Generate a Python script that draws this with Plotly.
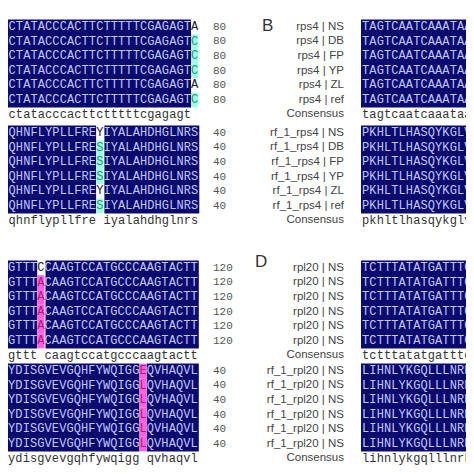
import plotly.graph_objects as go

# ---- data ----
nuc_a = ["CTATACCCACTTCTTTTTCGAGAGTA", "CTATACCCACTTCTTTTTCGAGAGTC", "CTATACCCACTTCTTTTTCGAGAGTC",
         "CTATACCCACTTCTTTTTCGAGAGTC", "CTATACCCACTTCTTTTTCGAGAGTA", "CTATACCCACTTCTTTTTCGAGAGTC"]
nuc_a_cons = "ctatacccacttctttttcgagagt "
prot_a = ["QHNFLYPLLFREYIYALAHDHGLNRS", "QHNFLYPLLFRESIYALAHDHGLNRS", "QHNFLYPLLFRESIYALAHDHGLNRS",
          "QHNFLYPLLFRESIYALAHDHGLNRS", "QHNFLYPLLFREYIYALAHDHGLNRS", "QHNFLYPLLFRESIYALAHDHGLNRS"]
prot_a_cons = "qhnflypllfre iyalahdhglnrs"
nuc_c = ["GTTTCCAAGTCCATGCCCAAGTACTT"] + ["GTTTACAAGTCCATGCCCAAGTACTT"] * 5
nuc_c_cons = "gttt caagtccatgcccaagtactt"
prot_c = ["YDISGVEVGQHFYWQIGGEQVHAQVL"] + ["YDISGVEVGQHFYWQIGGLQVHAQVL"] * 5
prot_c_cons = "ydisgvevgqhfywqigg qvhaqvl"

nuc_b = ["TAGTCAATCAAATAATAAT"] * 6
nuc_b_cons = "tagtcaatcaaataataat"
prot_b = ["PKHLTLHASQYKGLVNKK"] * 6
prot_b_cons = "pkhltlhasqykglvnkk"
nuc_d = ["TCTTTATATGATTTCCATT"] * 6
nuc_d_cons = "tctttatatgatttccatt"
prot_d = ["LIHNLYKGQLLLNRKIEE"] * 6
prot_d_cons = "lihnlykgqlllnrkiee"

labels_b_nuc = ["rps4 | NS", "rps4 | DB", "rps4 | FP", "rps4 | YP", "rps4 | ZL", "rps4 | ref", "Consensus"]
labels_b_prot = ["rf_1_rps4 | NS", "rf_1_rps4 | DB", "rf_1_rps4 | FP", "rf_1_rps4 | YP",
                 "rf_1_rps4 | ZL", "rf_1_rps4 | ref", "Consensus"]
labels_d_nuc = ["rpl20 | NS"] * 6 + ["Consensus"]
labels_d_prot = ["rf_1_rpl20 | NS"] * 6 + ["Consensus"]

ends = ["80", "40", "120", "40"]

NAVY = "#0a0a6e"
LET = "#c0c6ff"
CW = 7.3
PITCH = 14.6

fig = go.Figure()
shapes = []


def rect(x0, x1, y0, y1, color):
    shapes.append(dict(type="rect", xref="x", yref="y", x0=x0, x1=x1, y0=y0, y1=y1,
                       fillcolor=color, line=dict(width=0), layer="below"))


def block(x0, y0, rows, cons, hl_col=None, hl_rows=(), hl=None, gap=False, end=None):
    n = len(rows[0])
    top, bot = y0 - 7.5, y0 + PITCH * (len(rows) - 1) + 7.5
    if hl_col is None:
        rect(x0 - 1, x0 + n * CW, top, bot, NAVY)
    else:
        rect(x0 - 1, x0 + hl_col * CW, top, bot, NAVY)
        if hl_col + 1 < n:
            rect(x0 + (hl_col + 1) * CW + (1 if gap else 0), x0 + n * CW + 1, top, bot, NAVY)
    xs, ys, ts, cs = [], [], [], []
    for r, seq in enumerate(rows):
        y = y0 + r * PITCH
        for i, ch in enumerate(seq):
            xs.append(x0 + (i + 0.5) * CW)
            ys.append(y)
            ts.append(ch)
            if i == hl_col:
                if r in hl_rows:
                    rect(x0 + i * CW, x0 + (i + 1) * CW, y - 7.3, y + 7.3, hl[0])
                    cs.append(hl[1])
                else:
                    cs.append("#222222")
            else:
                cs.append(LET)
    yc = y0 + PITCH * len(rows)
    for i, ch in enumerate(cons):
        xs.append(x0 + (i + 0.5) * CW)
        ys.append(yc)
        ts.append(ch)
        cs.append("#333333")
    fig.add_trace(go.Scatter(x=xs, y=ys, text=ts, mode="text", hoverinfo="skip",
                             textfont=dict(family="Liberation Mono", size=12, color=cs)))
    if end:
        fig.add_trace(go.Scatter(x=[205] * len(rows), y=[y0 + r * PITCH for r in range(len(rows))],
                                 text=[end] * len(rows), mode="text", textposition="middle right",
                                 hoverinfo="skip",
                                 textfont=dict(family="Liberation Mono", size=11, color="#555555")))


def labels(y0, labs):
    fig.add_trace(go.Scatter(x=[336] * len(labs), y=[y0 + r * PITCH for r in range(len(labs))],
                             text=labs, mode="text", textposition="middle left", hoverinfo="skip",
                             textfont=dict(family="Liberation Sans", size=11.5, color="#444444")))


CYAN = ("#a0ffdc", "#1f9a78")
PINK = ("#ff60dc", "#b01880")
block(0.5, 19, nuc_a, nuc_a_cons, 25, (1, 2, 3, 5), CYAN, end=ends[0])
block(0.5, 125, prot_a, prot_a_cons, 12, (1, 2, 3, 5), CYAN, gap=True, end=ends[1])
block(0, 260, nuc_c, nuc_c_cons, 4, (1, 2, 3, 4, 5), PINK, gap=True, end=ends[2])
block(0, 363, prot_c, prot_c_cons, 18, (0, 1, 2, 3, 4, 5), PINK, end=ends[3])

block(354, 19, nuc_b, nuc_b_cons)
block(354, 125, prot_b, prot_b_cons)
block(354, 260, nuc_d, nuc_d_cons)
block(354, 363, prot_d, prot_d_cons)

labels(19, labels_b_nuc)
labels(125, labels_b_prot)
labels(260, labels_d_nuc)
labels(363, labels_d_prot)

for lab, x, y in [("B", 259, 17), ("D", 253, 253)]:
    fig.add_annotation(x=x, y=y, text=lab, showarrow=False, xref="x", yref="y",
                       font=dict(family="Liberation Sans", size=17, color="#333333"))

fig.update_layout(
    width=474, height=474, margin=dict(l=0, r=0, t=0, b=0),
    plot_bgcolor="white", paper_bgcolor="white", showlegend=False, shapes=shapes,
    xaxis=dict(range=[0, 474], visible=False, fixedrange=True),
    yaxis=dict(range=[474, 0], visible=False, fixedrange=True),
)
fig.write_html("out.html")
